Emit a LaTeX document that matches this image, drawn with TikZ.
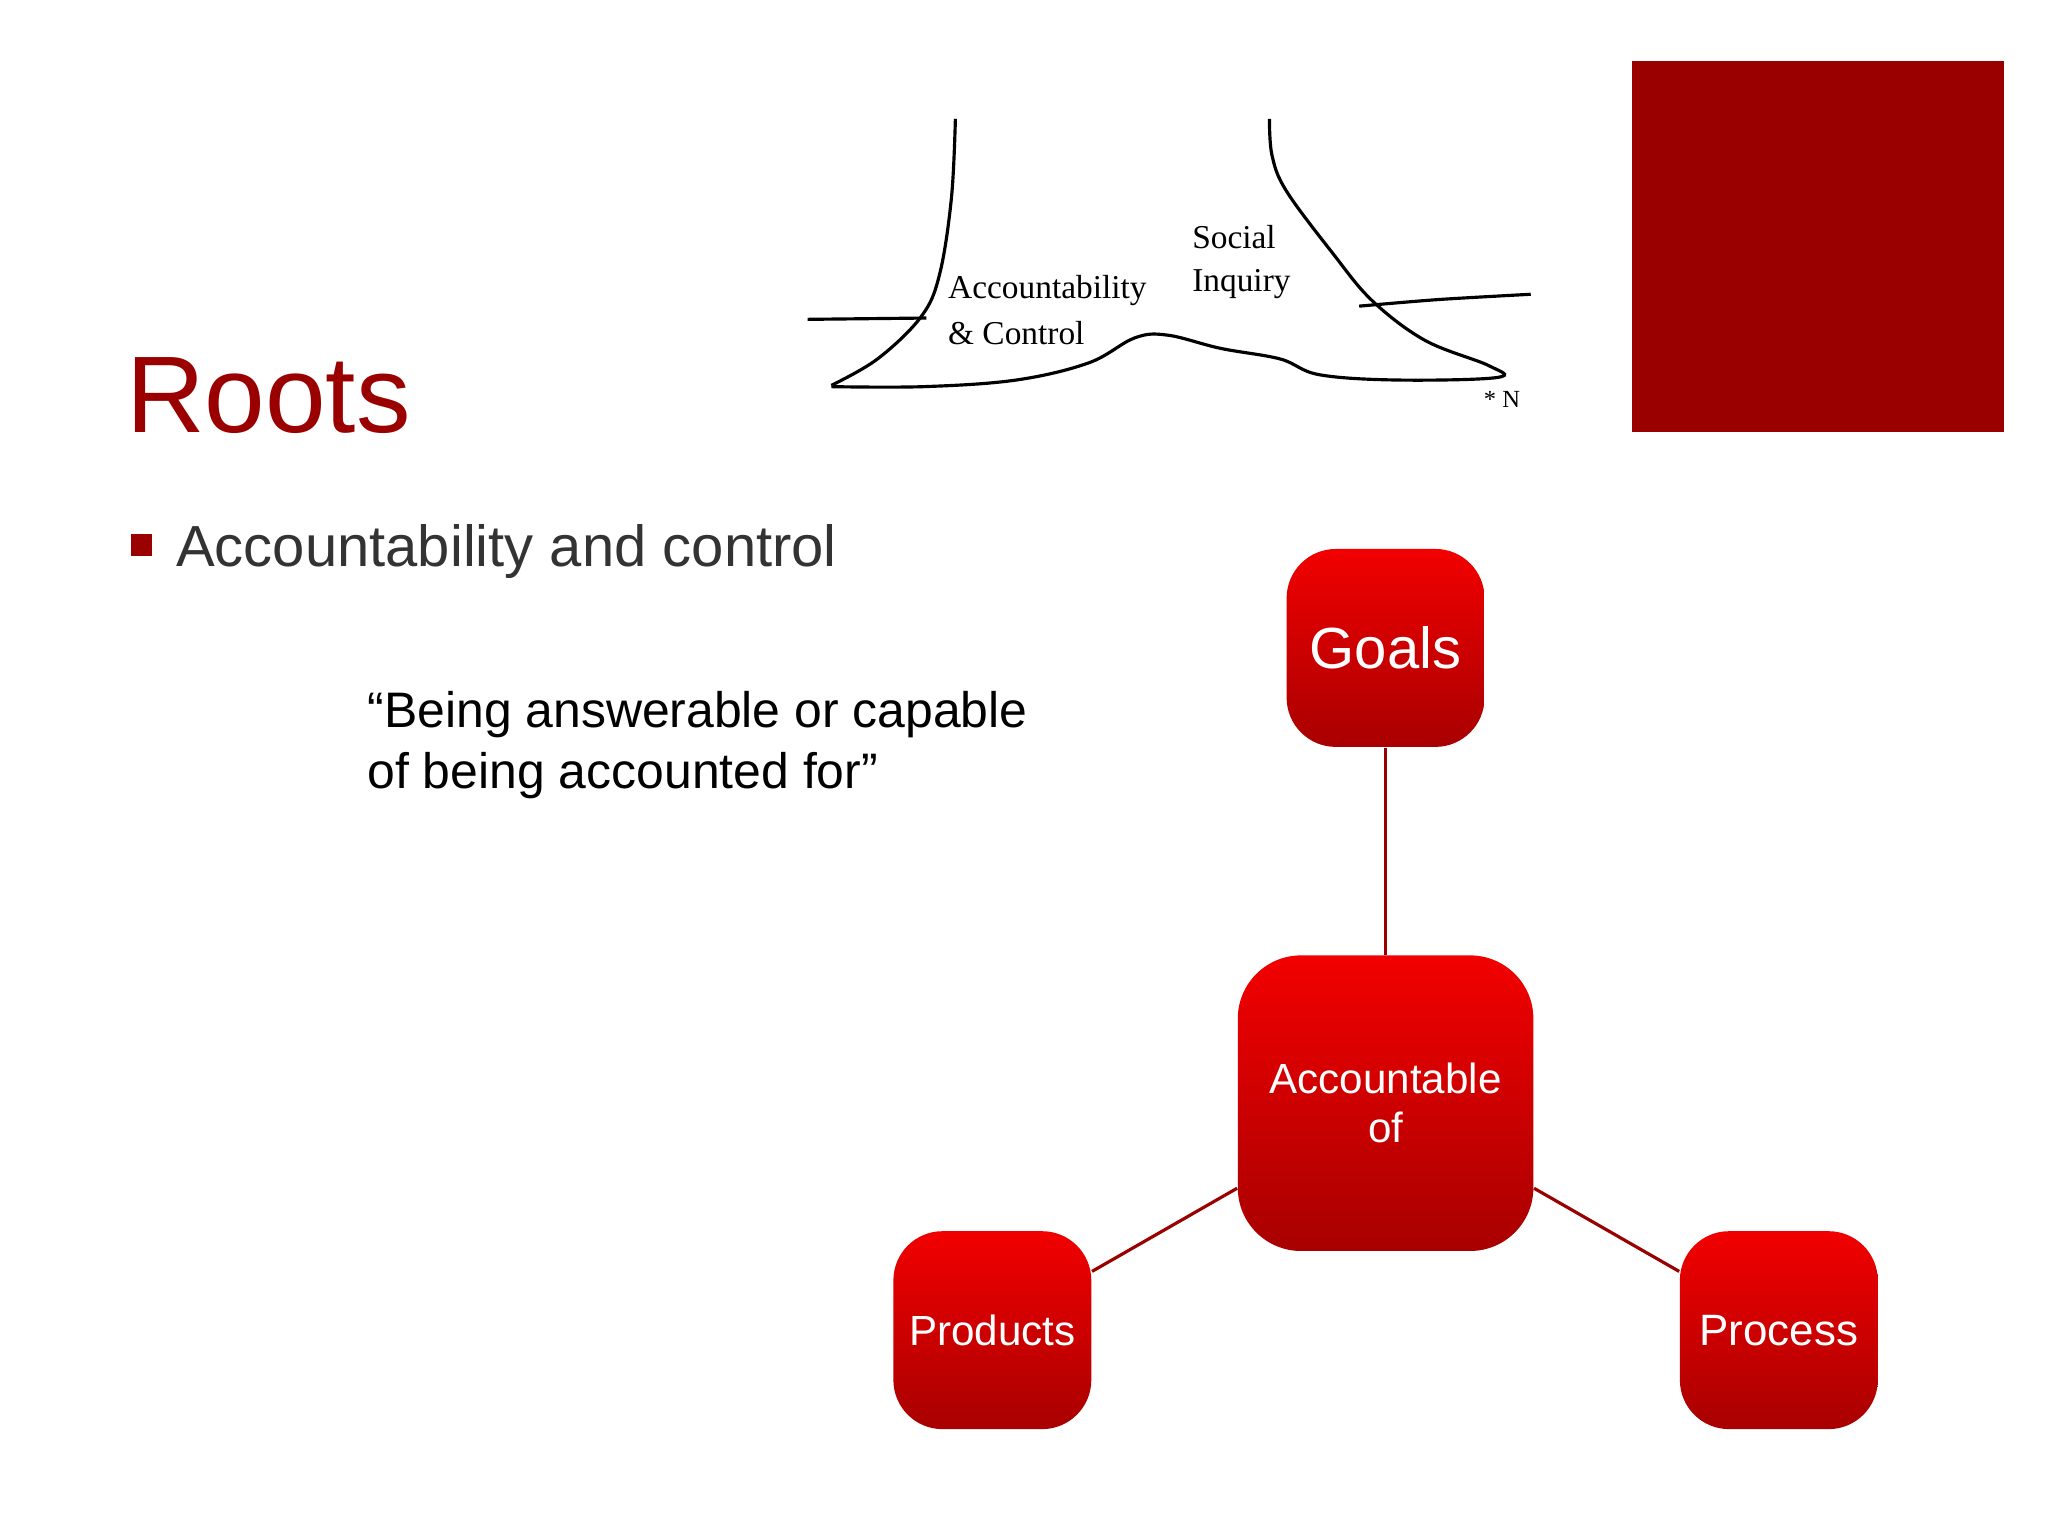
\documentclass[tikz,border=0pt]{standalone}
\usepackage{fontspec}
\setmainfont{Liberation Sans}
\newfontfamily\sketchfont{Liberation Serif}
\definecolor{deepred}{HTML}{9B0000}
\definecolor{txtgray}{HTML}{333333}
\definecolor{boxtop}{HTML}{F20000}
\definecolor{boxbot}{HTML}{A80000}
\begin{document}
\begin{tikzpicture}[x=0.013196cm,y=-0.013196cm,
  rbox/.style={rounded corners=14pt, top color=boxtop, bottom color=boxbot, draw=none,
    text=white, align=center, inner sep=0pt, drop shadow/.style={}},
  link/.style={draw=deepred, line width=0.9pt},
  sk/.style={line width=0.9pt, black}]
\useasboundingbox (0,0) rectangle (1552,1164);
\fill[white] (0,0) rectangle (1552,1164);
\fill[deepred] (1237,46) rectangle (1519,327);
\node[anchor=base west, text=deepred, font=\fontsize{31}{36}\selectfont, inner sep=0pt] (title) at (95,328) {Roots};
\fill[deepred] (99,405) rectangle (115,421);
\node[anchor=base west, text=txtgray, font=\fontsize{16.5}{20}\selectfont, inner sep=0pt] (bul) at (133,429) {Accountability and control};
\node[anchor=north west, text=black, font=\fontsize{14.2}{17.5}\selectfont, align=left, inner sep=0pt] (quote) at (278,523) {“Being answerable or capable\\of being accounted for”};
% sketch
\draw[sk] plot[smooth, tension=0.6] coordinates {(724,90) (721,150) (712,208) (698,240) (665,272) (630,292)};
\draw[sk] plot[smooth, tension=0.6] coordinates {(630,293) (700,293) (770,288) (825,275) (860,256) (885,254) (925,264) (970,272) (1000,284) (1060,288) (1135,286) (1128,277) (1080,258) (1040,228) (1010,192) (975,145) (964,118) (962,90)};
\draw[sk] (612,242) -- (702,241);
\draw[sk] plot[smooth, tension=0.5] coordinates {(1030,232) (1090,227) (1160,223)};
\node[anchor=base west, font=\sketchfont\fontsize{9.5}{11}\selectfont, inner sep=0pt] (s1) at (718,226) {Accountability};
\node[anchor=base west, font=\sketchfont\fontsize{9.5}{11}\selectfont, inner sep=0pt] (s2) at (718,261) {\& Control};
\node[anchor=base west, font=\sketchfont\fontsize{9.5}{11}\selectfont, inner sep=0pt] (s3) at (903,188) {Social};
\node[anchor=base west, font=\sketchfont\fontsize{9.5}{11}\selectfont, inner sep=0pt] (s4) at (903,221) {Inquiry};
\node[anchor=base west, font=\sketchfont\fontsize{7}{8}\selectfont, inner sep=0pt] (s5) at (1124,309) {* N};
% boxes
\node[rbox, minimum width=150*0.013196cm, minimum height=150*0.013196cm, font=\fontsize{16.5}{20}\selectfont] (goals) at (1050,491) {Goals};
\node[rbox, minimum width=224*0.013196cm, minimum height=224*0.013196cm, font=\fontsize{12}{14}\selectfont, rounded corners=18pt] (center) at (1050,836) {Accountable\\of};
\node[rbox, minimum width=150*0.013196cm, minimum height=150*0.013196cm, font=\fontsize{12}{14}\selectfont] (prod) at (752,1008) {Products};
\node[rbox, minimum width=150*0.013196cm, minimum height=150*0.013196cm, font=\fontsize{12.5}{14}\selectfont] (proc) at (1348,1008) {Process};
\draw[link] (goals.south) -- (center.north);
\draw[link] (prod.north east) ++(0,0) coordinate (pe);
\draw[link] ([yshift=-31*0.013196cm]prod.north east) -- ([yshift=-177*0.013196cm]center.north west);
\draw[link] ([yshift=-31*0.013196cm]proc.north west) -- ([yshift=-177*0.013196cm]center.north east);
\end{tikzpicture}
\end{document}
